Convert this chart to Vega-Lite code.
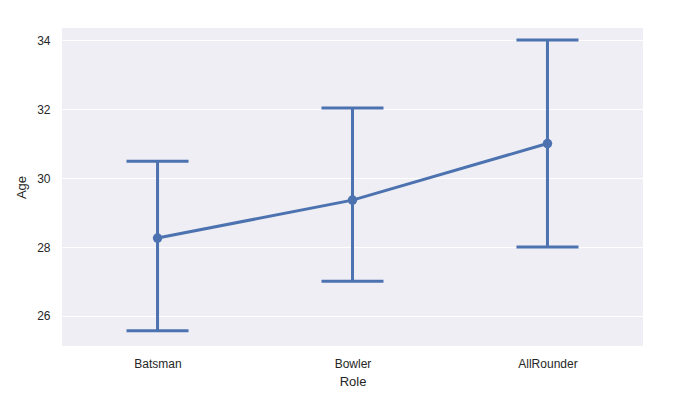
{
  "$schema": "https://vega.github.io/schema/vega-lite/v6.json",
  "autosize": {"type": "none"},
  "width": 581,
  "height": 318,
  "padding": {"left": 62, "top": 28, "right": 57, "bottom": 47},
  "background": "white",
  "config": {
    "view": {"fill": "#EEEEF4", "stroke": null},
    "font": "Liberation Sans",
    "axis": {
      "domain": false,
      "ticks": false,
      "gridColor": "white",
      "gridWidth": 1.2,
      "labelFontSize": 12,
      "labelColor": "#262626",
      "titleFontSize": 13,
      "titleFontWeight": "normal",
      "titleColor": "#262626"
    }
  },
  "data": {
    "values": [
      {"Role": "Batsman", "Age": 28.26, "lo": 25.57, "hi": 30.49},
      {"Role": "Bowler", "Age": 29.36, "lo": 27.01, "hi": 32.03},
      {"Role": "AllRounder", "Age": 31.0, "lo": 28.0, "hi": 34.0}
    ]
  },
  "encoding": {
    "x": {
      "field": "Role", "type": "nominal", "sort": null,
      "scale": {"type": "point", "padding": 0.49},
      "axis": {"labelAngle": 0, "grid": false, "labelPadding": 12, "titlePadding": 6}
    }
  },
  "layer": [
    {
      "mark": {"type": "rule", "color": "#4C72B0", "strokeWidth": 3},
      "encoding": {
        "y": {"field": "lo", "type": "quantitative"},
        "y2": {"field": "hi"}
      }
    },
    {
      "mark": {"type": "tick", "color": "#4C72B0", "size": 62, "thickness": 3, "opacity": 1},
      "encoding": {"y": {"field": "lo", "type": "quantitative"}}
    },
    {
      "mark": {"type": "tick", "color": "#4C72B0", "size": 62, "thickness": 3, "opacity": 1},
      "encoding": {"y": {"field": "hi", "type": "quantitative"}}
    },
    {
      "mark": {"type": "line", "color": "#4C72B0", "strokeWidth": 3, "point": {"filled": true, "size": 90, "color": "#4C72B0", "opacity": 1}},
      "encoding": {
        "y": {
          "field": "Age", "type": "quantitative",
          "scale": {"domain": [25.13, 34.35], "nice": false, "zero": false},
          "axis": {"values": [26, 28, 30, 32, 34], "title": "Age", "labelPadding": 12, "titlePadding": 8, "grid": true}
        }
      }
    }
  ]
}
